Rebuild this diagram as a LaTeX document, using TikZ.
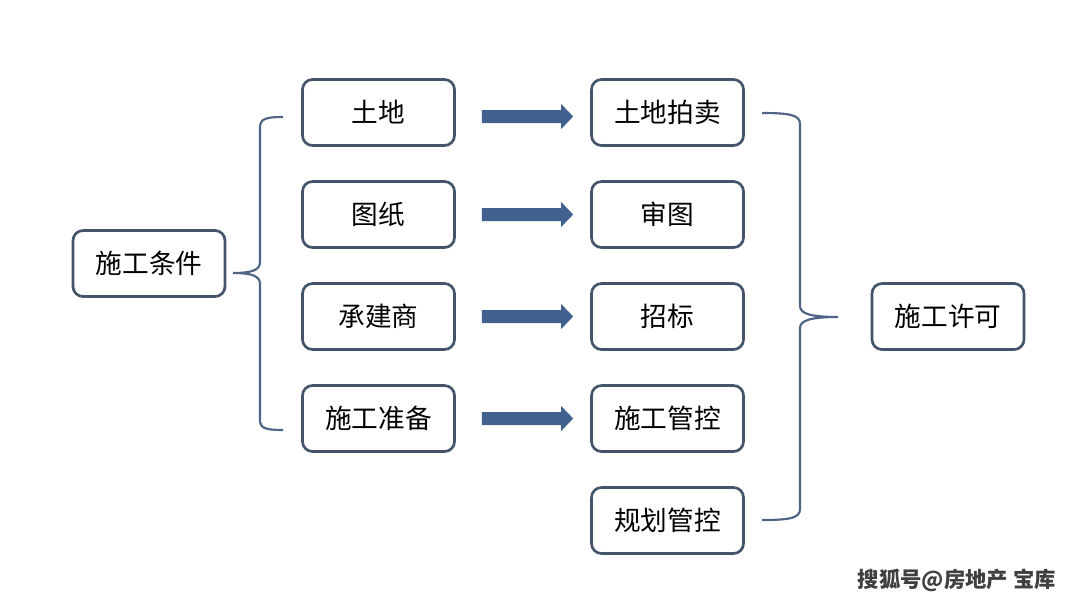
\documentclass[tikz,border=0pt]{standalone}
\usepackage{fontspec}
\usetikzlibrary{calc}
\setmainfont{Noto Sans CJK SC}
\definecolor{boxline}{HTML}{44546A}
\definecolor{braceline}{HTML}{4F6384}
\definecolor{arrowfill}{HTML}{41628F}
\begin{document}
\begin{tikzpicture}[x=0.75pt,y=-0.75pt,
  box/.style={draw=boxline,line width=2pt,rounded corners=7.5pt,minimum width=152*0.75pt,minimum height=66*0.75pt,inner sep=0pt,font=\fontsize{20}{22}\selectfont,text=black},
  bracestyle/.style={draw=braceline,line width=1.6pt},
  bigarrow/.style={fill=arrowfill,draw=none}]
\useasboundingbox (0,0) rectangle (1080,608);
\fill[white] (0,0) rectangle (1080,608);
% nodes
\node[box] (cond) at (149,263.5) {施工条件};
\node[box] (a1) at (378.5,112.5) {土地};
\node[box] (a2) at (378.5,214.5) {图纸};
\node[box] (a3) at (378.5,316.5) {承建商};
\node[box] (a4) at (378.5,418.5) {施工准备};
\node[box] (b1) at (667.5,112.5) {土地拍卖};
\node[box] (b2) at (667.5,214.5) {审图};
\node[box] (b3) at (667.5,316.5) {招标};
\node[box] (b4) at (667.5,418.5) {施工管控};
\node[box] (b5) at (667.5,520.5) {规划管控};
\node[box] (perm) at (948,316.5) {施工许可};
% block arrows
\foreach \i/\dy in {1/4,2/0,3/0,4/0}{
  \path (a\i.east) ++(26,\dy) coordinate (s\i);
  \path (b\i.west) ++(-17,\dy) coordinate (t\i);
  \fill[bigarrow] ($(s\i)+(0,-6.5)$) -- ($(t\i)+(-12,-6.5)$) -- ($(t\i)+(-12,-12.5)$) -- (t\i) -- ($(t\i)+(-12,12.5)$) -- ($(t\i)+(-12,6.5)$) -- ($(s\i)+(0,6.5)$) -- cycle;
}
% left brace
\coordinate (lt) at (283,117);
\coordinate (lb) at (283,430);
\coordinate (lm) at (233,273);
\draw[bracestyle] (lt) .. controls (265,117) and (260,119) .. (260,128)
  -- (260,262) .. controls (260,270) and (252,273) .. (lm)
  (lm) .. controls (252,273) and (260,276) .. (260,284)
  -- (260,420) .. controls (260,428) and (265,430) .. (lb);
% right brace
\coordinate (rt) at (762,113);
\coordinate (rb) at (762,520);
\coordinate (rm) at (838,317);
\draw[bracestyle] (rt) .. controls (790,113) and (800,115) .. (800,124)
  -- (800,306) .. controls (800,314) and (812,317) .. (rm)
  (rm) .. controls (812,317) and (800,320) .. (800,328)
  -- (800,509) .. controls (800,518) and (790,520) .. (rb);
% watermark
\node[font=\bfseries\fontsize{16}{18}\selectfont,text=black!75,anchor=east,inner sep=0pt] (wm) at (1056,580) {搜狐号@房地产 宝库};
\end{tikzpicture}
\end{document}
